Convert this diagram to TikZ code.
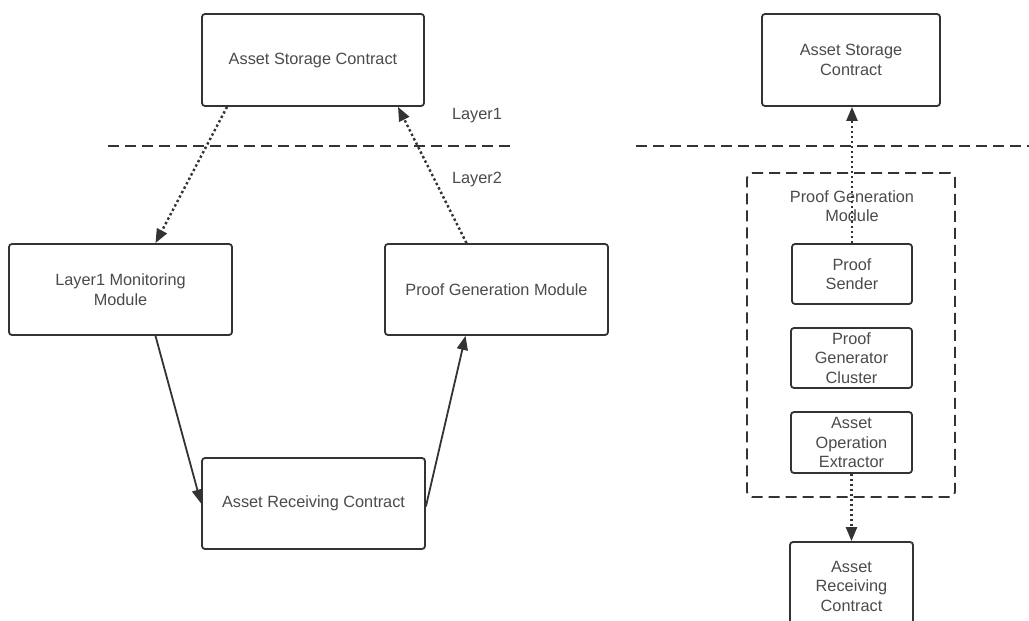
\documentclass[tikz,border=0pt]{standalone}
\usepackage{fontspec}
\setmainfont{Liberation Sans}
\usetikzlibrary{arrows.meta,calc}
\definecolor{linec}{RGB}{51,51,51}
\definecolor{textc}{RGB}{75,75,75}
\tikzset{
  box/.style={draw=linec, line width=1.8pt, rounded corners=3pt, inner sep=0pt, align=center, text=textc, font=\fontsize{16.3}{19.5}\selectfont},
  dotarrow/.style={draw=linec, line width=2.4pt, dash pattern=on 2.4pt off 2.6pt, -{Triangle[length=14pt,width=11pt]}},
  solidarrow/.style={draw=linec, line width=1.8pt, -{Triangle[length=14pt,width=11pt]}},
  sepline/.style={draw=linec, line width=1.8pt, dash pattern=on 11pt off 6pt},
  container/.style={draw=linec, line width=1.8pt, dash pattern=on 11pt off 6pt, rounded corners=5pt, inner sep=0pt},
  lbl/.style={text=textc, font=\fontsize{16.3}{19.5}\selectfont, align=center, inner sep=0pt}
}
\begin{document}
\begin{tikzpicture}[x=1pt,y=-1pt]
\clip (0,0) rectangle (1029,621);
\fill[white] (0,0) rectangle (1029,621);
% ---------- left diagram ----------
\node[box, minimum width=222pt, minimum height=92pt] (asc) at (313,60) {\raisebox{-2pt}{Asset Storage Contract}};
\node[box, minimum width=223pt, minimum height=91pt] (lmm) at (120.5,289.5) {Layer1 Monitoring\\Module};
\node[box, minimum width=223pt, minimum height=91pt] (pgm) at (496.5,289.5) {Proof Generation Module};
\node[box, minimum width=223pt, minimum height=91pt] (arc) at (313.5,503.5) {Asset Receiving Contract};
\coordinate (sepLa) at (108,146);
\coordinate (sepLb) at (513,146);
\draw[sepline] (sepLa) -- (sepLb);
\node[lbl] (l1) at (477,116) {Layer1};
\node[lbl] (l2) at (477,179) {Layer2};
\draw[dotarrow] ([xshift=-86pt]asc.south) -- ([xshift=35pt]lmm.north);
\draw[dotarrow] ([xshift=-30pt]pgm.north) -- ([xshift=85pt]asc.south);
\draw[solidarrow] ([xshift=35pt]lmm.south) -- (arc.west);
\draw[solidarrow] ([yshift=-3pt]arc.east) -- ([xshift=-31pt]pgm.south);
% ---------- right diagram ----------
\node[box, minimum width=178pt, minimum height=92pt] (asc2) at (851,60) {Asset Storage\\Contract};
\coordinate (sepRa) at (636,146);
\coordinate (sepRb) at (1029,146);
\draw[sepline] (sepRa) -- (sepRb);
\node[container, minimum width=208pt, minimum height=324pt] (pgmc) at (851,335) {};
\node[lbl] (pgmlabel) at (852,206) {Proof Generation\\Module};
\node[box, minimum width=120pt, minimum height=60pt] (ps) at (852,274) {Proof\\Sender};
\node[box, minimum width=121pt, minimum height=60pt] (pgc) at (851.5,358) {Proof\\Generator\\Cluster};
\node[box, minimum width=121pt, minimum height=61pt] (aoe) at (851.5,442.5) {Asset\\Operation\\Extractor};
\node[box, minimum width=123pt, minimum height=88pt] (arc2) at (851.5,586) {Asset\\Receiving\\Contract};
\draw[dotarrow] (ps.north) -- (ps.north |- asc2.south);
\draw[dotarrow] (aoe.south) -- (aoe.south |- arc2.north);
\end{tikzpicture}
\end{document}
